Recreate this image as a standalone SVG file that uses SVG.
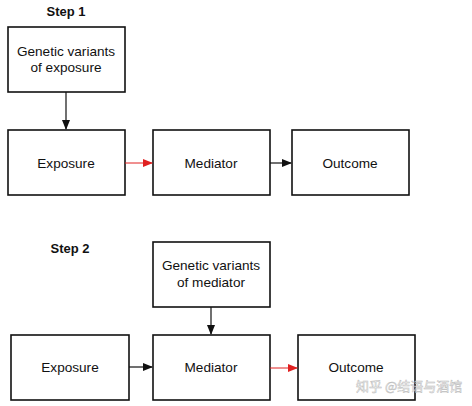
<svg xmlns="http://www.w3.org/2000/svg" width="472" height="406" viewBox="0 0 472 406">
<defs>
<style>
.box{fill:#fff;stroke:#111;stroke-width:1.6}
.t{font-family:"Liberation Sans",Arial,sans-serif;font-size:13.6px;fill:#111;text-anchor:middle}
.h{font-family:"Liberation Sans",Arial,sans-serif;font-size:13px;font-weight:bold;fill:#111;text-anchor:middle}
.k{stroke:#111;stroke-width:1.2;fill:none}
.r{stroke:#e02020;stroke-width:1;fill:none}
.wm{font-family:"Noto Sans CJK SC","Liberation Sans",sans-serif;font-size:13px;fill:#fff;stroke:#aaa;stroke-width:0.5;opacity:0.8}
</style>
<marker id="ak" markerWidth="10" markerHeight="8" refX="9" refY="4" orient="auto" markerUnits="userSpaceOnUse"><path d="M0,0 L10,4 L0,8 Z" fill="#111"/></marker>
<marker id="ar" markerWidth="10" markerHeight="8" refX="9" refY="4" orient="auto" markerUnits="userSpaceOnUse"><path d="M0,0 L10,4 L0,8 Z" fill="#e02020"/></marker>
</defs>
<rect width="472" height="406" fill="#fff"/>
<text class="h" x="66" y="16">Step 1</text>
<text class="h" x="70" y="253">Step 2</text>
<g id="gv1"><rect class="box" x="8" y="27" width="117" height="65"/><text class="t" x="66" y="56">Genetic variants</text><text class="t" x="66" y="72">of exposure</text></g>
<g id="exp1"><rect class="box" x="8" y="130" width="117" height="65"/><text class="t" x="66" y="168">Exposure</text></g>
<g id="med1"><rect class="box" x="153" y="130" width="117" height="65"/><text class="t" x="211" y="168">Mediator</text></g>
<g id="out1"><rect class="box" x="292" y="130" width="117" height="65"/><text class="t" x="350" y="168">Outcome</text></g>
<g id="gv2"><rect class="box" x="153" y="242" width="117" height="65"/><text class="t" x="211" y="270">Genetic variants</text><text class="t" x="211" y="287">of mediator</text></g>
<g id="exp2"><rect class="box" x="11" y="335" width="118" height="65"/><text class="t" x="70" y="372">Exposure</text></g>
<g id="med2"><rect class="box" x="153" y="335" width="117" height="65"/><text class="t" x="211" y="372">Mediator</text></g>
<g id="out2"><rect class="box" x="298" y="335" width="117" height="65"/><text class="t" x="356" y="372">Outcome</text></g>
<g id="connectors">
<line class="k" x1="66" y1="92" x2="66" y2="129" marker-end="url(#ak)"/>
<line class="r" x1="125" y1="163" x2="152" y2="163" marker-end="url(#ar)"/>
<line class="k" x1="270" y1="163" x2="291" y2="163" marker-end="url(#ak)"/>
<line class="k" x1="211" y1="307" x2="211" y2="334" marker-end="url(#ak)"/>
<line class="k" x1="129" y1="367" x2="152" y2="367" marker-end="url(#ak)"/>
<line class="r" x1="270" y1="368" x2="297" y2="368" marker-end="url(#ar)"/>
</g>
<text class="wm" x="356" y="391">知乎 @结语与酒馆</text>
</svg>
